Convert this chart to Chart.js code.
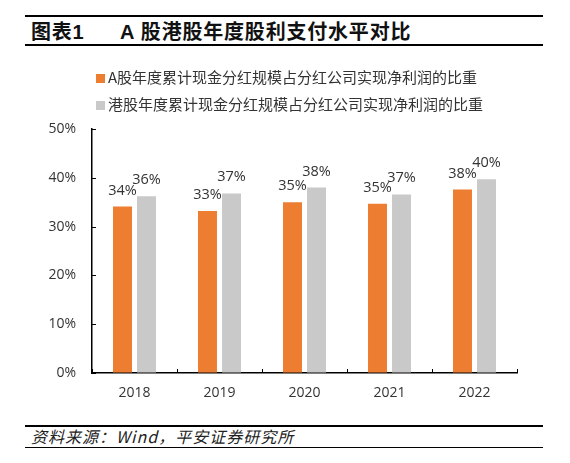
<!DOCTYPE html>
<html>
<head>
  <title>A股港股年度股利支付水平对比</title>
  <script src="https://cdn.jsdelivr.net/npm/chart.js"></script>
  <style>
    body {
      margin: 0;
      width: 570px;
      height: 463px;
      position: relative;
      background: #fff;
      font-family: "Open Sans", "Noto Sans CJK SC", sans-serif;
      color: #222;
      overflow: hidden;
    }
    .rule { position: absolute; left: 25px; width: 518px; background: #000; }
    #title {
      position: absolute; left: 31px; top: 19px;
      font-family: "Liberation Sans", "Noto Sans CJK SC", sans-serif;
      font-size: 20px; font-weight: bold; line-height: 26px; color: #111;
      letter-spacing: 0.8px;
    }
    #title span { position: absolute; white-space: nowrap; }
    #legend { position: absolute; left: 96px; top: 68px; font-size: 15px; color: #333; }
    .item { position: absolute; left: 0; white-space: nowrap; line-height: 18px; font-family: "Noto Sans CJK SC", sans-serif; }
    .box { display: inline-block; width: 9px; height: 9px; margin-right: 3px; vertical-align: 0px; }
    #footer {
      position: absolute; left: 31px; top: 426px;
      font-size: 16px; font-style: italic; line-height: 21px; color: #222;
      font-family: "Noto Sans CJK SC", sans-serif; white-space: nowrap;
      letter-spacing: 1px;
    }
    #wrap { position: absolute; left: 0; top: 0; width: 570px; height: 415px; }
  </style>
</head>
<body>
  <div class="rule" style="top:15px;height:2px"></div>
  <div id="title"><span style="left:0">图表1</span><span style="left:89px">A 股港股年度股利支付水平对比</span></div>
  <div class="rule" style="top:44px;height:1.5px"></div>

  <div id="wrap"><canvas id="chart"></canvas></div>
  <div id="legend"></div>

  <div class="rule" style="top:425px;height:2px"></div>
  <div id="footer">资料来源：Wind，平安证券研究所</div>
  <div class="rule" style="top:447px;height:1px"></div>

  <script>
    const years = ['2018', '2019', '2020', '2021', '2022'];
    const seriesNames = [
      'A股年度累计现金分红规模占分红公司实现净利润的比重',
      '港股年度累计现金分红规模占分红公司实现净利润的比重'
    ];
    const aShare = [34.1, 33.2, 35.0, 34.7, 37.6];
    const hkShare = [36.2, 36.8, 38.0, 36.6, 39.7];
    const yTicks = [0, 10, 20, 30, 40, 50];
    const colors = ['#ED7D31', '#C9C9C9'];

    // legend built from the datasets
    const legend = document.getElementById('legend');
    seriesNames.forEach((name, i) => {
      const d = document.createElement('div');
      d.className = 'item';
      d.style.top = (i * 27) + 'px';
      d.innerHTML = '<span class="box" style="background:' + colors[i] + '"></span>' + name;
      legend.appendChild(d);
    });

    // value labels and small inward ticks
    const extras = {
      id: 'extras',
      afterDatasetsDraw(chart) {
        const ctx = chart.ctx;
        ctx.save();
        ctx.font = '14.5px "Open Sans", sans-serif';
        ctx.fillStyle = '#333';
        ctx.textAlign = 'center';
        ctx.textBaseline = 'alphabetic';
        chart.data.datasets.forEach((ds, di) => {
          chart.getDatasetMeta(di).data.forEach((bar, i) => {
            ctx.fillText(Math.round(ds.data[i]) + '%', bar.x, bar.y - 12);
          });
        });
        ctx.restore();
      },
      afterDraw(chart) {
        const ctx = chart.ctx;
        const area = chart.chartArea;
        const x = chart.scales.x, y = chart.scales.y;
        ctx.save();
        ctx.strokeStyle = '#000';
        ctx.lineWidth = 1;
        ctx.beginPath();
        y.ticks.forEach((t, i) => {
          const py = Math.round(y.getPixelForTick(i)) + 0.5;
          ctx.moveTo(area.left, py);
          ctx.lineTo(area.left + 4, py);
        });
        for (let i = 0; i <= years.length; i++) {
          let px;
          if (i === 0) px = area.left;
          else if (i === years.length) px = area.right;
          else px = (x.getPixelForValue(i - 1) + x.getPixelForValue(i)) / 2;
          px = Math.round(px) + 0.5;
          ctx.moveTo(px, area.bottom);
          ctx.lineTo(px, area.bottom - 4);
        }
        ctx.stroke();
        ctx.restore();
      }
    };

    new Chart(document.getElementById('chart'), {
      type: 'bar',
      data: {
        labels: years,
        datasets: [
          { label: seriesNames[0], data: aShare, backgroundColor: colors[0] },
          { label: seriesNames[1], data: hkShare, backgroundColor: colors[1] }
        ]
      },
      options: {
        responsive: true,
        maintainAspectRatio: false,
        animation: false,
        datasets: { bar: { categoryPercentage: 0.565, barPercentage: 0.79 } },
        layout: { padding: { top: 129, right: 53, bottom: 0, left: 0 } },
        plugins: { legend: { display: false }, tooltip: { enabled: false } },
        scales: {
          x: {
            grid: { display: true, drawOnChartArea: false, drawTicks: false },
            border: { display: true, color: '#000', width: 1.5 },
            ticks: { color: '#333', padding: 12, font: { size: 14, family: '"Open Sans", sans-serif' } },
            afterFit(s) { s.height = 42; }
          },
          y: {
            min: 0, max: 50,
            afterBuildTicks(s) { s.ticks = yTicks.map(v => ({ value: v })); },
            grid: { display: true, drawOnChartArea: false, drawTicks: false },
            border: { display: true, color: '#000', width: 1.5 },
            ticks: {
              color: '#333', padding: 16,
              font: { size: 14, family: '"Open Sans", sans-serif' },
              callback: v => v + '%'
            },
            afterFit(s) { s.width = 92; }
          }
        }
      },
      plugins: [extras]
    });
  </script>
</body>
</html>
